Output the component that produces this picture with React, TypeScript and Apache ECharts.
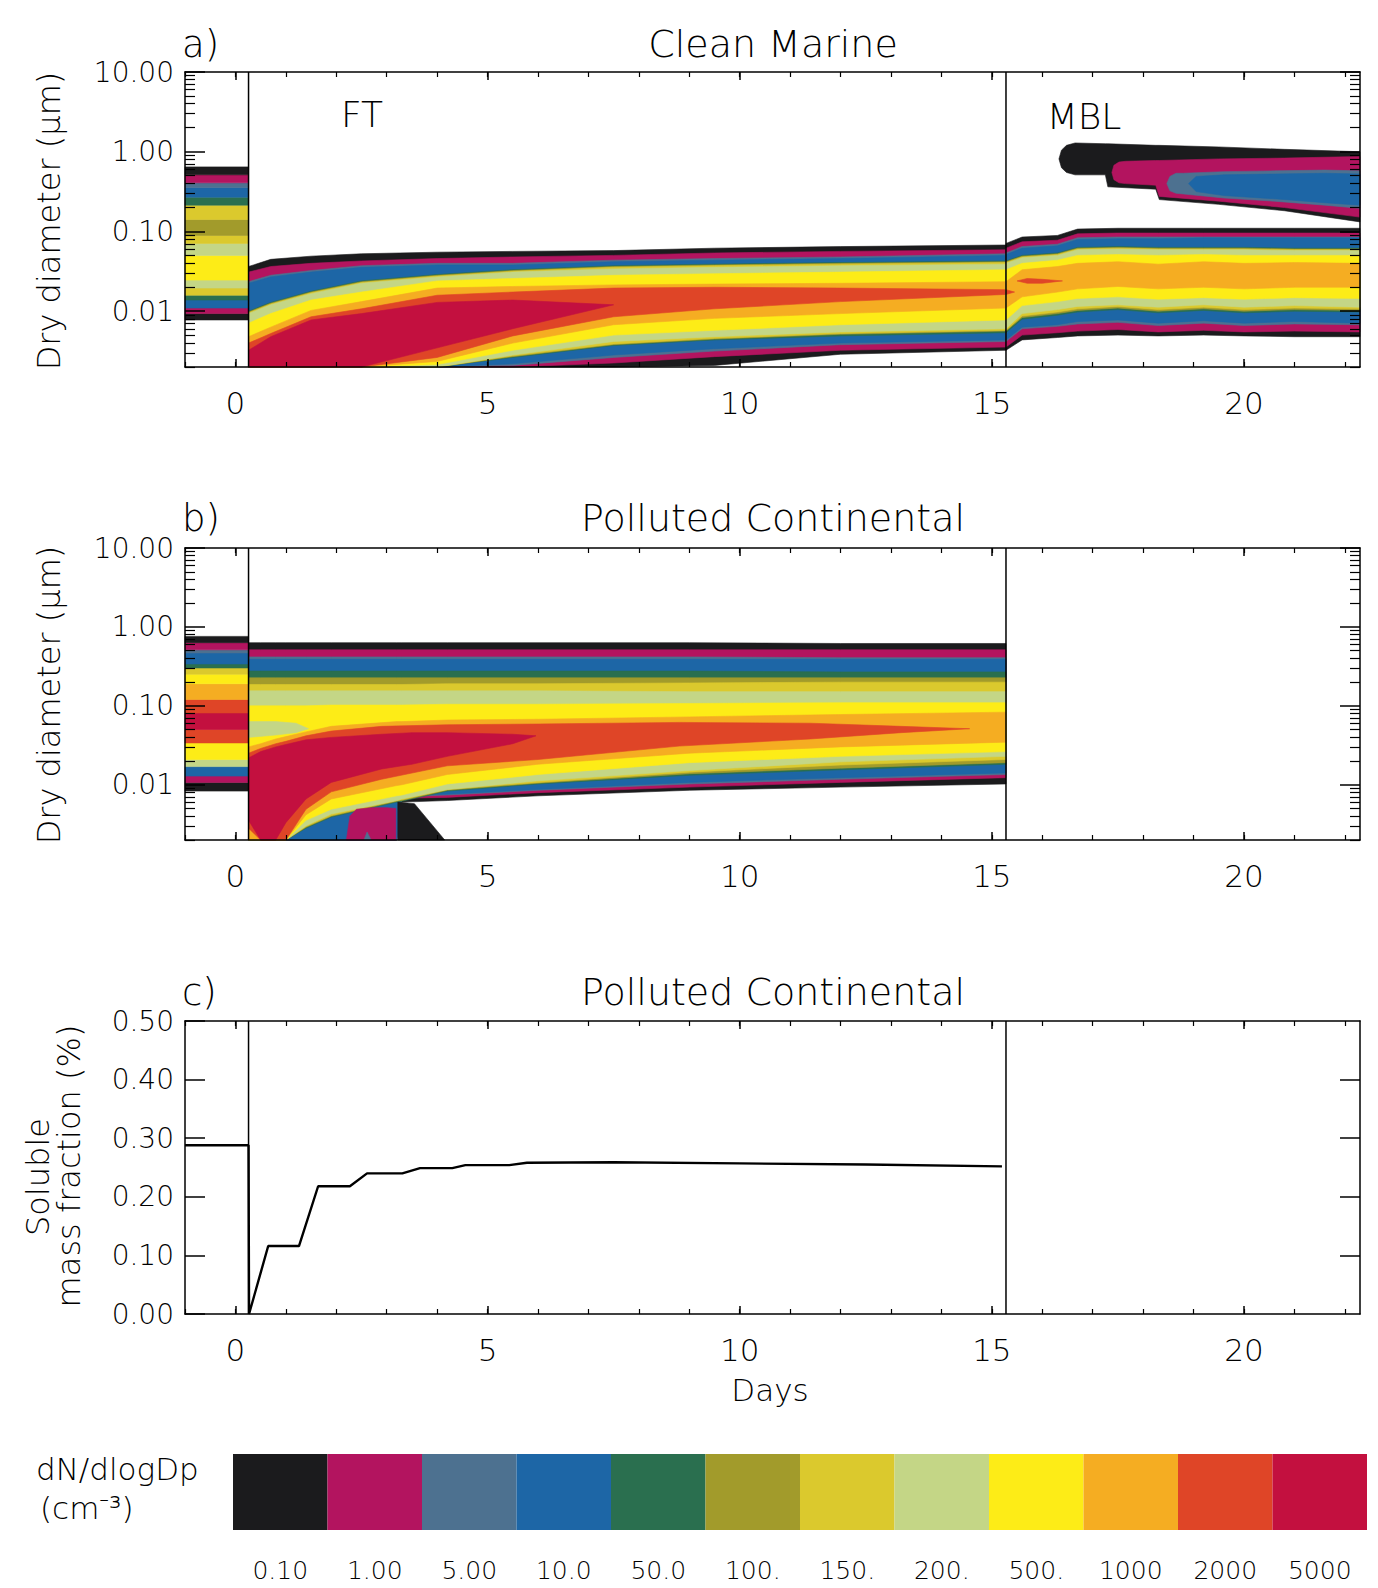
import React, { useEffect, useRef } from "react";
import * as echarts from "echarts";

const FONT = '"DejaVu Sans", "Noto Sans", sans-serif';
const FW = 200;

// ---- colour scale dN/dlogDp (cm^-3) ----
const levelLabels = ["0.10", "1.00", "5.00", "10.0", "50.0", "100.", "150.", "200.", "500.", "1000", "2000", "5000"];
const levelColors = ["#1b1b1d", "#b3145f", "#4d7190", "#1d66a6", "#2a6f4f", "#a29b2b", "#dbc92d", "#c4d686", "#fdec17", "#f5ad22", "#df4527", "#c3103f"];

// ---- axes ----
const dayRange = [-1, 22.3];
const xMajorTicks = [0, 5, 10, 15, 20];
const xMinorTicks = [-1, 0, 1, 2, 3, 4, 5, 6, 7, 8, 9, 10, 11, 12, 13, 14, 15, 16, 17, 18, 19, 20, 21, 22];
const dividerDays = [0.26, 15.28];
const diamTicks = [0.01, 0.1, 1, 10];
const diamTickLabels = ["0.01", "0.10", "1.00", "10.00"];
const logDiamRange = [-2.7, 1]; // log10(µm): 0.002 .. 10 µm
const fracTicksRight = [0.1, 0.2, 0.3, 0.4];

// ---- panel a (Clean Marine), log10 of dry diameter (µm) ----
// initial column [lo, hi, level]
const aColumnBands = [
  [-2.11, -2.03, 0], [-2.03, -1.96, 1], [-1.96, -1.86, 3], [-1.86, -1.80, 4],
  [-1.80, -1.71, 6], [-1.71, -1.61, 7], [-1.61, -1.30, 8], [-1.30, -1.15, 7],
  [-1.15, -1.05, 6], [-1.05, -0.85, 5], [-0.85, -0.67, 6], [-0.67, -0.57, 4],
  [-0.57, -0.45, 3], [-0.45, -0.39, 2], [-0.39, -0.29, 1], [-0.29, -0.19, 0],
];
const aFtX = [0.26, 0.7, 1.5, 2.5, 4, 5.5, 7.5, 9.5, 12, 15.28];
const aFtHi = [
  [-1.44, -1.35, -1.31, -1.28, -1.26, -1.25, -1.24, -1.21, -1.19, -1.17],
  [-1.51, -1.44, -1.40, -1.37, -1.34, -1.32, -1.30, -1.27, -1.25, -1.23],
  [-1.63, -1.55, -1.49, -1.43, -1.40, -1.40, -1.36, -1.34, -1.32, -1.28],
  [-1.65, -1.57, -1.51, -1.45, -1.42, -1.42, -1.38, -1.36, -1.34, -1.30],
  [-2.00, -1.89, -1.75, -1.62, -1.54, -1.48, -1.43, -1.41, -1.39, -1.37],
  [-2.01, -1.90, -1.76, -1.63, -1.55, -1.49, -1.44, -1.42, -1.40, -1.38],
  [-2.02, -1.91, -1.77, -1.64, -1.56, -1.50, -1.45, -1.43, -1.41, -1.39],
  [-2.03, -1.92, -1.78, -1.65, -1.57, -1.51, -1.47, -1.45, -1.43, -1.41],
  [-2.15, -2.03, -1.86, -1.76, -1.62, -1.59, -1.55, -1.53, -1.51, -1.48],
  [-2.32, -2.20, -1.99, -1.88, -1.71, -1.69, -1.67, -1.66, -1.65, -1.63],
  [-2.40, -2.28, -2.07, -1.97, -1.80, -1.76, -1.71, -1.70, -1.71, -1.73],
];
const aFtLo = [
  [-2.7, -2.7, -2.7, -2.7, -2.7, -2.7, -2.7, -2.68, -2.54, -2.49],
  [-2.7, -2.7, -2.7, -2.7, -2.7, -2.7, -2.65, -2.57, -2.49, -2.45],
  [-2.7, -2.7, -2.7, -2.7, -2.7, -2.68, -2.58, -2.50, -2.42, -2.38],
  [-2.7, -2.7, -2.7, -2.7, -2.7, -2.66, -2.55, -2.47, -2.40, -2.36],
  [-2.7, -2.7, -2.7, -2.7, -2.7, -2.58, -2.43, -2.36, -2.31, -2.27],
  [-2.7, -2.7, -2.7, -2.7, -2.7, -2.57, -2.42, -2.35, -2.29, -2.25],
  [-2.7, -2.7, -2.7, -2.7, -2.7, -2.56, -2.41, -2.34, -2.28, -2.24],
  [-2.7, -2.7, -2.7, -2.7, -2.7, -2.55, -2.38, -2.32, -2.26, -2.22],
  [-2.7, -2.7, -2.7, -2.7, -2.67, -2.49, -2.30, -2.24, -2.17, -2.11],
  [-2.7, -2.7, -2.7, -2.7, -2.63, -2.40, -2.17, -2.09, -2.03, -1.96],
  [-2.7, -2.7, -2.7, -2.7, -2.58, -2.31, -2.07, -1.97, -1.88, -1.79],
];
const aCrimsonX = [0.26, 0.7, 1.5, 2.5, 4, 5.5, 7.5];
const aCrimsonHi = [-2.49, -2.32, -2.11, -2.03, -1.89, -1.86, -1.92];
const aCrimsonLo = [-2.7, -2.7, -2.7, -2.7, -2.46, -2.22, -1.92];
const aRedTipX = [15.28, 15.45];
const aRedTipHi = [-1.73, -1.76];
const aRedTipLo = [-1.79, -1.76];
const aMblX = [15.28, 15.6, 16.3, 16.7, 17.5, 18.3, 19.2, 20, 21, 22.3];
const aMblHi = [
  [-1.15, -1.07, -1.05, -0.97, -0.96, -0.96, -0.96, -0.96, -0.96, -0.96],
  [-1.21, -1.13, -1.11, -1.03, -1.02, -1.02, -1.02, -1.02, -1.02, -1.02],
  [-1.27, -1.19, -1.16, -1.08, -1.07, -1.07, -1.07, -1.07, -1.07, -1.07],
  [-1.29, -1.21, -1.18, -1.10, -1.09, -1.09, -1.08, -1.08, -1.08, -1.08],
  [-1.37, -1.30, -1.27, -1.20, -1.19, -1.20, -1.20, -1.20, -1.21, -1.21],
  [-1.38, -1.31, -1.28, -1.21, -1.20, -1.21, -1.21, -1.21, -1.22, -1.22],
  [-1.39, -1.32, -1.29, -1.22, -1.21, -1.22, -1.22, -1.22, -1.23, -1.23],
  [-1.40, -1.33, -1.30, -1.23, -1.22, -1.23, -1.23, -1.23, -1.24, -1.24],
  [-1.48, -1.40, -1.36, -1.30, -1.29, -1.30, -1.29, -1.30, -1.30, -1.30],
  [-1.63, -1.48, -1.44, -1.40, -1.38, -1.41, -1.38, -1.40, -1.39, -1.40],
];
const aMblLo = [
  [-2.49, -2.36, -2.33, -2.31, -2.30, -2.31, -2.30, -2.31, -2.32, -2.32],
  [-2.45, -2.30, -2.27, -2.25, -2.23, -2.26, -2.24, -2.26, -2.25, -2.26],
  [-2.38, -2.22, -2.19, -2.16, -2.14, -2.18, -2.15, -2.18, -2.16, -2.17],
  [-2.36, -2.20, -2.17, -2.13, -2.11, -2.15, -2.12, -2.15, -2.13, -2.15],
  [-2.27, -2.10, -2.05, -2.01, -1.98, -2.02, -1.99, -2.02, -2.00, -2.01],
  [-2.25, -2.08, -2.03, -1.99, -1.96, -2.00, -1.97, -2.00, -1.98, -1.99],
  [-2.24, -2.06, -2.01, -1.97, -1.94, -1.98, -1.95, -1.98, -1.96, -1.97],
  [-2.22, -2.03, -1.98, -1.94, -1.92, -1.95, -1.92, -1.95, -1.93, -1.95],
  [-2.11, -1.93, -1.88, -1.84, -1.82, -1.85, -1.83, -1.85, -1.83, -1.84],
  [-1.96, -1.82, -1.76, -1.72, -1.69, -1.72, -1.70, -1.72, -1.70, -1.70],
];
const aMblRedX = [15.5, 15.7, 16.0, 16.4];
const aMblRedHi = [-1.62, -1.59, -1.60, -1.62];
const aMblRedLo = [-1.62, -1.65, -1.65, -1.62];
const aCoarseBlackX = [16.33, 16.38, 16.48, 16.65, 17.25, 17.3, 18.25, 18.32, 19.5, 20.8, 22.3];
const aCoarseBlackHi = [-0.09, 0.02, 0.08, 0.11, 0.10, 0.10, 0.08, 0.08, 0.06, 0.03, 0.0];
const aCoarseBlackLo = [-0.09, -0.20, -0.26, -0.29, -0.29, -0.44, -0.47, -0.60, -0.66, -0.74, -0.88];
const aCoarseMagentaX = [17.38, 17.42, 17.52, 17.65, 18.25, 18.32, 19.5, 20.8, 22.3];
const aCoarseMagentaHi = [-0.26, -0.17, -0.13, -0.12, -0.11, -0.11, -0.09, -0.08, -0.06];
const aCoarseMagentaLo = [-0.26, -0.35, -0.39, -0.40, -0.42, -0.56, -0.62, -0.70, -0.82];
const aCoarseSlateX = [18.47, 18.53, 18.65, 18.8, 19.6, 20.6, 21.6, 22.3];
const aCoarseSlateHi = [-0.40, -0.31, -0.27, -0.27, -0.25, -0.24, -0.23, -0.24];
const aCoarseSlateLo = [-0.40, -0.49, -0.52, -0.53, -0.58, -0.62, -0.67, -0.71];
const aCoarseBlueX = [18.9, 19.05, 19.6, 20.6, 21.6, 22.3];
const aCoarseBlueHi = [-0.40, -0.31, -0.29, -0.28, -0.27, -0.28];
const aCoarseBlueLo = [-0.40, -0.50, -0.55, -0.59, -0.64, -0.67];

// ---- panel b (Polluted Continental) ----
const bColumnBands = [
  [-2.08, -1.97, 0], [-1.97, -1.89, 1], [-1.89, -1.77, 3], [-1.77, -1.68, 7],
  [-1.68, -1.47, 8], [-1.47, -1.30, 10], [-1.30, -1.09, 11], [-1.09, -0.92, 10],
  [-0.92, -0.72, 9], [-0.72, -0.60, 8], [-0.60, -0.52, 6], [-0.52, -0.47, 4],
  [-0.47, -0.33, 3], [-0.33, -0.29, 2], [-0.29, -0.20, 1], [-0.20, -0.12, 0],
];
const bFtX = [0.26, 0.5, 0.8, 1.0, 1.4, 1.9, 3.2, 3.3, 4.2, 6, 9, 12, 15.28];
const bFtHi = [
  [-0.20, -0.20, -0.20, -0.20, -0.20, -0.20, -0.20, -0.20, -0.20, -0.20, -0.20, -0.21, -0.21],
  [-0.29, -0.29, -0.29, -0.29, -0.29, -0.29, -0.29, -0.29, -0.29, -0.29, -0.29, -0.29, -0.29],
  [-0.38, -0.38, -0.38, -0.38, -0.38, -0.38, -0.38, -0.38, -0.38, -0.38, -0.38, -0.39, -0.39],
  [-0.41, -0.41, -0.41, -0.41, -0.41, -0.41, -0.41, -0.41, -0.41, -0.41, -0.41, -0.41, -0.41],
  [-0.56, -0.56, -0.56, -0.56, -0.56, -0.56, -0.56, -0.56, -0.56, -0.56, -0.56, -0.57, -0.57],
  [-0.645, -0.645, -0.645, -0.645, -0.645, -0.645, -0.645, -0.645, -0.645, -0.645, -0.645, -0.645, -0.645],
  [-0.73, -0.73, -0.73, -0.73, -0.73, -0.73, -0.73, -0.73, -0.72, -0.72, -0.71, -0.70, -0.70],
  [-0.81, -0.81, -0.81, -0.81, -0.81, -0.81, -0.81, -0.81, -0.81, -0.81, -0.82, -0.82, -0.82],
  [-1.00, -1.00, -1.00, -1.00, -1.00, -0.99, -0.99, -0.99, -0.98, -0.98, -0.97, -0.96, -0.96],
];
const bFtLo = [
  [-2.7, -2.7, -2.7, -2.7, -2.7, -2.7, -2.7, -2.22, -2.20, -2.14, -2.07, -2.03, -1.99],
  [-2.7, -2.7, -2.7, -2.7, -2.7, -2.7, -2.7, -2.17, -2.16, -2.10, -2.03, -1.97, -1.91],
  [-2.7, -2.7, -2.7, -2.7, -2.7, -2.7, -2.7, -2.15, -2.13, -2.07, -1.99, -1.93, -1.87],
  [-2.7, -2.7, -2.7, -2.7, -2.7, -2.7, -2.7, -2.14, -2.12, -2.06, -1.97, -1.91, -1.85],
  [-2.7, -2.7, -2.7, -2.7, -2.55, -2.41, -2.22, -2.21, -2.08, -1.99, -1.88, -1.81, -1.74],
  [-2.7, -2.7, -2.7, -2.7, -2.54, -2.40, -2.21, -2.20, -2.07, -1.98, -1.86, -1.79, -1.72],
  [-2.7, -2.7, -2.7, -2.7, -2.53, -2.39, -2.20, -2.19, -2.06, -1.97, -1.84, -1.75, -1.68],
  [-2.7, -2.7, -2.7, -2.7, -2.52, -2.37, -2.20, -2.18, -2.06, -1.95, -1.82, -1.71, -1.64],
  [-2.7, -2.7, -2.7, -2.7, -2.45, -2.31, -2.14, -2.13, -1.99, -1.87, -1.72, -1.64, -1.58],
];
const bOrangeHi = [-1.52, -1.48, -1.42, -1.39, -1.33, -1.26, -1.20, -1.20, -1.18, -1.17, -1.14, -1.11, -1.08];
const bOrangeLo = [-2.7, -2.7, -2.7, -2.7, -2.38, -2.18, -2.01, -2.00, -1.87, -1.74, -1.60, -1.52, -1.46];
const bPaleBlobX = [0.26, 0.8, 1.2, 1.45];
const bPaleBlobHi = [-1.20, -1.20, -1.22, -1.29];
const bPaleBlobLo = [-1.40, -1.37, -1.34, -1.29];
const bRedX = [0.26, 0.5, 0.8, 1.0, 1.4, 1.9, 2.9, 4.2, 6, 8.8, 11.4, 13.2, 14.56];
const bRedHi = [-1.60, -1.54, -1.48, -1.45, -1.38, -1.32, -1.26, -1.24, -1.23, -1.21, -1.22, -1.26, -1.29];
const bRedLo = [-2.55, -2.7, -2.7, -2.7, -2.31, -2.09, -1.93, -1.76, -1.68, -1.51, -1.42, -1.34, -1.29];
const bCrimsonX = [0.26, 0.5, 0.8, 1.0, 1.4, 1.9, 2.9, 3.5, 4.2, 5.5, 5.96];
const bCrimsonHi = [-1.66, -1.58, -1.52, -1.49, -1.43, -1.40, -1.36, -1.34, -1.34, -1.36, -1.38];
const bCrimsonLo = [-2.45, -2.7, -2.7, -2.48, -2.18, -1.97, -1.80, -1.74, -1.64, -1.48, -1.38];
const bMagBumpX = [2.2, 2.27, 2.4, 2.7, 3.0, 3.18];
const bMagBumpHi = [-2.7, -2.40, -2.31, -2.29, -2.29, -2.30];
const bMagBumpLo = [-2.7, -2.7, -2.7, -2.7, -2.7, -2.7];
const bSlateDotX = [2.55, 2.61, 2.69];
const bSlateDotHi = [-2.7, -2.6, -2.7];
const bSlateDotLo = [-2.7, -2.7, -2.7];
const bBlackBumpX = [3.22, 3.55, 4.15];
const bBlackBumpHi = [-2.22, -2.24, -2.7];
const bBlackBumpLo = [-2.7, -2.7, -2.7];

// ---- panel c: soluble mass fraction ----
const cDays = [-1, 0.26, 0.27, 0.65, 1.26, 1.64, 2.27, 2.61, 3.31, 3.66, 4.3, 4.56, 5.43, 5.78, 7.5, 10, 12.5, 15.2];
const cFrac = [0.288, 0.288, 0, 0.116, 0.116, 0.218, 0.218, 0.24, 0.24, 0.249, 0.249, 0.254, 0.254, 0.258, 0.259, 0.257, 0.255, 0.252];

type Region = { level: number; x: number[]; hi: number[]; lo: number[] };

const columnRegions = (bands: number[][], x0: number, x1: number): Region[] =>
  bands.map(([lo, hi, level]) => ({ level, x: [x0, x1], hi: [hi, hi], lo: [lo, lo] }));
const stackRegions = (x: number[], his: number[][], los: number[][]): Region[] =>
  his.map((hi, i) => ({ level: i, x, hi, lo: los[i] }));
const single = (level: number, x: number[], hi: number[], lo: number[]): Region => ({ level, x, hi, lo });

const panelARegions: Region[] = [
  ...columnRegions(aColumnBands, dayRange[0], dividerDays[0]),
  ...stackRegions(aFtX, aFtHi, aFtLo),
  single(11, aCrimsonX, aCrimsonHi, aCrimsonLo),
  ...stackRegions(aMblX, aMblHi, aMblLo),
  single(10, aRedTipX, aRedTipHi, aRedTipLo),
  single(10, aMblRedX, aMblRedHi, aMblRedLo),
  single(0, aCoarseBlackX, aCoarseBlackHi, aCoarseBlackLo),
  single(1, aCoarseMagentaX, aCoarseMagentaHi, aCoarseMagentaLo),
  single(2, aCoarseSlateX, aCoarseSlateHi, aCoarseSlateLo),
  single(3, aCoarseBlueX, aCoarseBlueHi, aCoarseBlueLo),
];

const panelBRegions: Region[] = [
  ...columnRegions(bColumnBands, dayRange[0], dividerDays[0]),
  ...stackRegions(bFtX, bFtHi, bFtLo),
  single(7, bPaleBlobX, bPaleBlobHi, bPaleBlobLo),
  single(9, bFtX, bOrangeHi, bOrangeLo),
  single(10, bRedX, bRedHi, bRedLo),
  single(11, bCrimsonX, bCrimsonHi, bCrimsonLo),
  single(1, bMagBumpX, bMagBumpHi, bMagBumpLo),
  single(2, bSlateDotX, bSlateDotHi, bSlateDotLo),
  single(0, bBlackBumpX, bBlackBumpHi, bBlackBumpLo),
];

const lineStyle = { color: "#000", width: 1.5 };
const minorLine = { color: "#000", width: 1.2 };
const labelStyle = { color: "#000", fontFamily: FONT, fontWeight: FW };
const shownLine = { show: true, onZero: false, lineStyle };
const hiddenLine = { show: false, onZero: false };

const diamMajorLog = diamTicks.map((t) => Math.log10(t));
const diamMinorLog: number[] = [];
for (let e = -3; e <= 0; e++) {
  for (let k = 2; k <= 9; k++) {
    const v = Math.log10(k * Math.pow(10, e));
    if (v >= logDiamRange[0] && v <= logDiamRange[1]) diamMinorLog.push(v);
  }
}
const fmtDiam = (v: number) => {
  const i = diamMajorLog.findIndex((t) => Math.abs(t - v) < 1e-6);
  return i >= 0 ? diamTickLabels[i] : "";
};

function xAxesFor(g: number) {
  const base = { type: "value", gridIndex: g, min: dayRange[0], max: dayRange[1], splitLine: { show: false }, z: 10 };
  return [
    {
      ...base, position: "bottom", axisLine: shownLine,
      axisTick: { show: true, inside: true, length: 8, customValues: xMajorTicks, lineStyle },
      axisLabel: { show: true, customValues: xMajorTicks, margin: 20, fontSize: 31, ...labelStyle },
    },
    {
      ...base, position: "bottom", axisLine: hiddenLine,
      axisTick: { show: true, inside: true, length: 5, customValues: xMinorTicks, lineStyle: minorLine },
      axisLabel: { show: false },
    },
    {
      ...base, position: "top", axisLine: shownLine,
      axisTick: { show: true, inside: true, length: 8, customValues: xMajorTicks, lineStyle },
      axisLabel: { show: false },
    },
    {
      ...base, position: "top", axisLine: hiddenLine,
      axisTick: { show: true, inside: true, length: 5, customValues: xMinorTicks, lineStyle: minorLine },
      axisLabel: { show: false },
    },
  ];
}

function yDiamAxes(g: number) {
  const base = { type: "value", gridIndex: g, min: logDiamRange[0], max: logDiamRange[1], splitLine: { show: false }, z: 10 };
  return [
    {
      ...base, position: "left", axisLine: shownLine,
      axisTick: { show: true, inside: true, length: 20, customValues: diamMajorLog, lineStyle },
      axisLabel: { show: true, customValues: diamMajorLog, formatter: fmtDiam, fontSize: 28, margin: 11, ...labelStyle },
    },
    {
      ...base, position: "left", axisLine: hiddenLine,
      axisTick: { show: true, inside: true, length: 10, customValues: diamMinorLog, lineStyle: minorLine },
      axisLabel: { show: false },
    },
    {
      ...base, position: "right", axisLine: shownLine,
      axisTick: { show: true, inside: true, length: 20, customValues: diamMajorLog, lineStyle },
      axisLabel: { show: false },
    },
    {
      ...base, position: "right", axisLine: hiddenLine,
      axisTick: { show: true, inside: true, length: 10, customValues: diamMinorLog, lineStyle: minorLine },
      axisLabel: { show: false },
    },
  ];
}

const regionSeries = (regions: Region[], axisIndex: number) => ({
  type: "custom",
  xAxisIndex: axisIndex,
  yAxisIndex: axisIndex,
  silent: true,
  z: 2,
  data: regions.map((r) => [r.x[0], r.hi[0]]),
  encode: { x: 0, y: 1 },
  renderItem: (params: any, api: any) => {
    const r = regions[params.dataIndex];
    const pts: number[][] = [];
    for (let i = 0; i < r.x.length; i++) pts.push(api.coord([r.x[i], r.hi[i]]));
    for (let i = r.x.length - 1; i >= 0; i--) pts.push(api.coord([r.x[i], r.lo[i]]));
    const c = levelColors[r.level];
    return { type: "polygon", shape: { points: pts }, style: { fill: c, stroke: c, lineWidth: 0.6 } };
  },
});

const dividerSeries = (axisIndex: number, y0: number, y1: number) =>
  dividerDays.map((d) => ({
    type: "line",
    xAxisIndex: axisIndex,
    yAxisIndex: axisIndex,
    data: [[d, y0], [d, y1]],
    symbol: "none",
    silent: true,
    z: 5,
    lineStyle: { color: "#000", width: 1.5 },
  }));

const txt = (text: string, x: number, y: number, fontSize: number, opts: any = {}) => ({
  type: "text",
  x,
  y,
  rotation: opts.rotation || 0,
  style: {
    text,
    fontSize,
    fontFamily: FONT,
    fontWeight: FW,
    fill: "#000",
    align: opts.align || "center",
    verticalAlign: "middle",
  },
});

export default function App() {
  const ref = useRef<HTMLDivElement>(null);
  useEffect(() => {
    document.body.style.margin = "0";
    const chart = echarts.init(ref.current!, null, { renderer: "svg" });
    const xAxes: any[] = [...xAxesFor(0), ...xAxesFor(1), ...xAxesFor(2)];
    xAxes.push({
      type: "category", gridIndex: 3, data: levelLabels,
      axisLine: { show: false }, axisTick: { show: false },
      axisLabel: { margin: 28, fontSize: 25, ...labelStyle },
    });
    const fracBase = { type: "value", gridIndex: 2, min: 0, max: 0.5, interval: 0.1, splitLine: { show: false }, z: 10 };
    const yAxes: any[] = [
      ...yDiamAxes(0),
      ...yDiamAxes(1),
      {
        ...fracBase, position: "left", axisLine: shownLine,
        axisTick: { show: true, inside: true, length: 20, lineStyle },
        axisLabel: { show: true, formatter: (v: number) => v.toFixed(2), fontSize: 28, margin: 11, ...labelStyle },
      },
      {
        ...fracBase, position: "right", axisLine: shownLine,
        axisTick: { show: true, inside: true, length: 20, customValues: fracTicksRight, lineStyle },
        axisLabel: { show: false },
      },
      { type: "value", gridIndex: 3, min: 0, max: 1, show: false },
    ];
    const option: any = {
      animation: false,
      backgroundColor: "#fff",
      grid: [
        { left: 185, right: 18, top: 72, height: 295 },
        { left: 185, right: 18, top: 548, height: 292 },
        { left: 185, right: 18, top: 1021, height: 293 },
        { left: 233, right: 11, top: 1454, height: 76 },
      ],
      xAxis: xAxes,
      yAxis: yAxes,
      series: [
        regionSeries(panelARegions, 0),
        ...dividerSeries(0, logDiamRange[0], logDiamRange[1]),
        regionSeries(panelBRegions, 4),
        ...dividerSeries(4, logDiamRange[0], logDiamRange[1]),
        {
          type: "line", xAxisIndex: 8, yAxisIndex: 8, symbol: "none", silent: true, z: 6,
          data: cDays.map((d, i) => [d, cFrac[i]]),
          lineStyle: { color: "#000", width: 2.4 },
        },
        ...dividerSeries(8, 0, 0.5),
        {
          type: "bar", xAxisIndex: 12, yAxisIndex: 10, silent: true,
          barWidth: "100%", barCategoryGap: "0%",
          data: levelColors.map((c) => ({ value: 1, itemStyle: { color: c } })),
        },
      ],
      graphic: [
        txt("a)", 182, 44, 37, { align: "left" }),
        txt("Clean Marine", 773, 44, 38),
        txt("FT", 362, 114, 36),
        txt("MBL", 1084, 116, 36),
        txt("b)", 182, 518, 37, { align: "left" }),
        txt("Polluted Continental", 773, 518, 38),
        txt("c)", 182, 992, 37, { align: "left" }),
        txt("Polluted Continental", 773, 992, 38),
        txt("Dry diameter (\u03bcm)", 49, 221, 32, { rotation: Math.PI / 2 }),
        txt("Dry diameter (\u03bcm)", 49, 695, 32, { rotation: Math.PI / 2 }),
        txt("Soluble", 38, 1177, 32, { rotation: Math.PI / 2 }),
        txt("mass fraction (%)", 69, 1166, 32, { rotation: Math.PI / 2 }),
        txt("Days", 770, 1390, 31),
        txt("dN/dlogDp", 36, 1469, 31, { align: "left" }),
        txt("(cm\u207b\u00b3)", 40, 1508, 31, { align: "left" }),
      ],
    };
    chart.setOption(option);
    return () => chart.dispose();
  }, []);
  return <div ref={ref} style={{ width: 1378, height: 1588 }} />;
}
